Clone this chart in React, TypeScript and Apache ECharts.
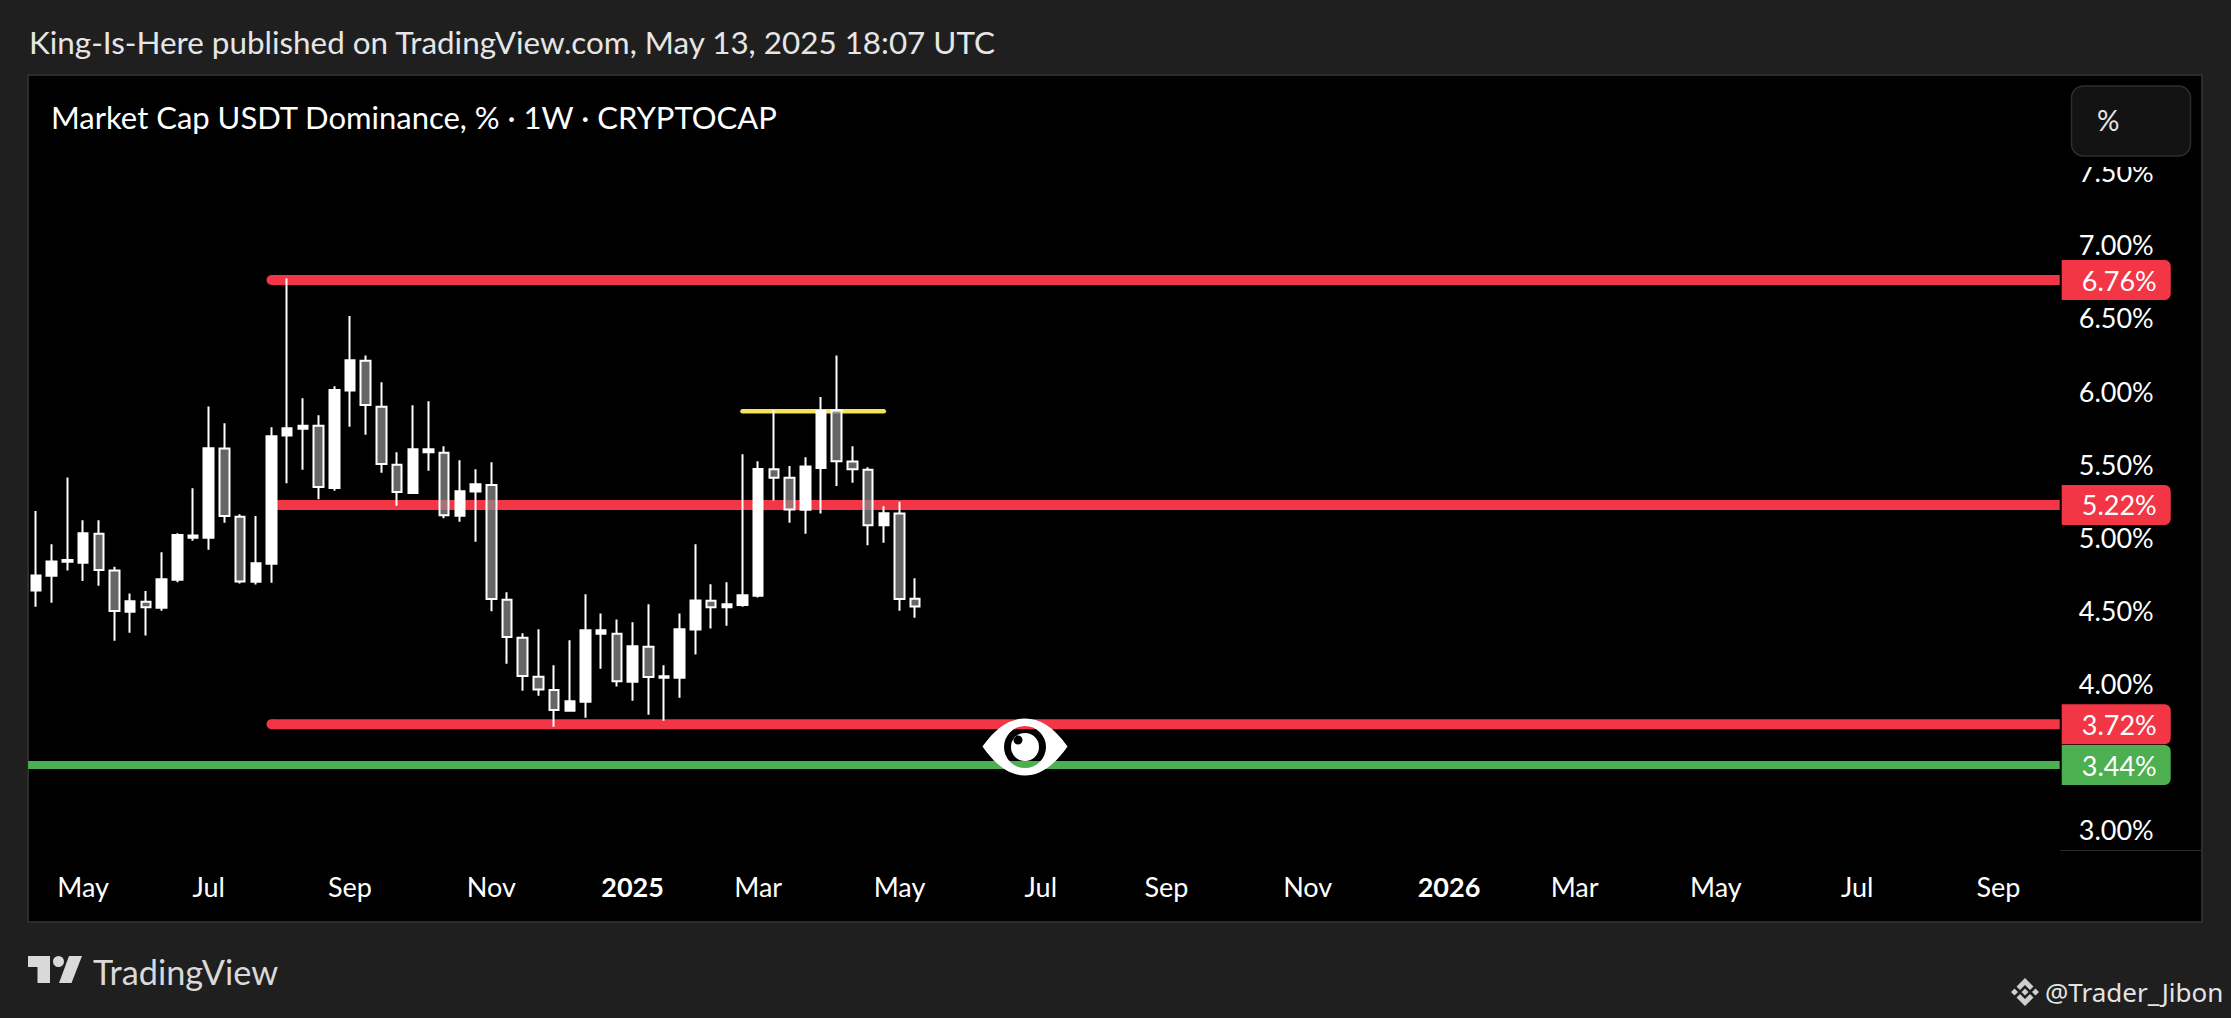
import React, { useEffect, useRef } from "react";
import * as echarts from "echarts";

const opens = [4.634,4.736,4.832,4.825,5.024,4.771,4.490,4.558,4.517,4.709,4.996,4.996,5.606,5.140,4.695,4.818,5.695,5.742,5.763,5.336,6.003,6.208,5.893,5.496,5.302,5.581,5.578,5.147,5.312,5.357,4.572,4.312,4.045,3.954,3.812,3.874,4.339,4.339,4.011,4.250,4.038,4.038,4.367,4.565,4.520,4.536,4.599,5.464,5.407,5.188,5.474,5.866,5.517,5.462,5.081,5.161,4.579];
const closes = [4.738,4.834,4.844,5.026,4.775,4.494,4.561,4.520,4.711,5.015,5.012,5.608,5.145,4.697,4.821,5.690,5.745,5.763,5.343,6.007,6.210,5.905,5.501,5.309,5.601,5.601,5.149,5.314,5.362,4.577,4.316,4.050,3.958,3.817,3.876,4.362,4.362,4.013,4.253,4.043,4.047,4.369,4.567,4.520,4.540,4.602,5.467,5.407,5.190,5.484,5.864,5.519,5.464,5.081,5.163,4.577,4.526];
const lows = [4.524,4.551,4.771,4.700,4.668,4.291,4.346,4.326,4.497,4.691,4.976,4.914,5.099,4.682,4.675,4.688,5.368,5.462,5.259,5.318,5.756,5.701,5.441,5.215,5.295,5.455,5.129,5.106,4.969,4.492,4.134,3.949,3.915,3.703,3.812,3.764,4.100,3.977,3.881,3.785,3.744,3.901,4.196,4.374,4.394,4.524,4.586,5.250,5.099,5.024,5.161,5.350,5.373,4.944,4.962,4.497,4.449];
const highs = [5.179,4.951,5.409,5.115,5.115,4.798,4.615,4.631,4.896,5.026,5.334,5.895,5.779,5.156,5.145,5.752,6.771,5.950,5.834,6.032,6.514,6.244,6.060,5.581,5.902,5.930,5.622,5.526,5.464,5.512,4.622,4.342,4.369,4.123,4.294,4.609,4.478,4.437,4.417,4.540,4.123,4.478,4.951,4.677,4.691,5.567,5.519,5.870,5.487,5.546,5.959,6.244,5.622,5.478,5.211,5.243,4.718];

const tickWeeks = [3, 11, 20, 29, 38, 46, 55, 64, 72, 81, 90, 98, 107, 116, 125];
const tickLabels = ["May", "Jul", "Sep", "Nov", "2025", "Mar", "May", "Jul", "Sep", "Nov", "2026", "Mar", "May", "Jul", "Sep"];
const priceTicks = [3, 3.5, 4, 4.5, 5, 5.5, 6, 6.5, 7, 7.5];

const levelValues = [6.76, 5.22, 3.72, 3.44];
const levelStarts = [15, 15, 15, -0.5];
const levelColors = ["#F23645", "#F23645", "#F23645", "#4CAF50"];
const levelWidths = [10, 10, 10, 8];
const yellowValue = 5.861;
const yellowSpan = [45, 54];

const FONT = "Lato";
const WEEK_PX = 15.7;
const AXIS_MIN = -0.5;
const AXIS_MAX = 128.9;

echarts.graphic.registerShape(
  "eyeIcon",
  echarts.graphic.extendPath(
    "M0 28C14 8 28 0 42.5 0C57 0 71 8 85 28C71 48 57 57 42.5 57C28 57 14 48 0 28Z" +
      "M21.5 28.5A21 21 0 0 0 63.5 28.5A21 21 0 0 0 21.5 28.5Z" +
      "M28.5 28.5A14 14 0 0 1 56.5 28.5A14 14 0 0 1 28.5 28.5Z" +
      "M31 21.5A4.5 4.5 0 0 0 40 21.5A4.5 4.5 0 0 0 31 21.5Z",
    {}
  )
);
echarts.graphic.registerShape(
  "tvLogo",
  echarts.graphic.extendPath(
    "M0 0H22V27H9.5V11H0Z" +
      "M25 5.5A5.5 5.5 0 1 1 36 5.5A5.5 5.5 0 1 1 25 5.5Z" +
      "M41 0H54L43.5 27H31Z",
    {}
  )
);
echarts.graphic.registerShape(
  "binanceLogo",
  echarts.graphic.extendPath(
    "M14 10.5L17.5 14L14 17.5L10.5 14Z" +
      "M0 14L3.5 10.5L7 14L3.5 17.5Z" +
      "M21 14L24.5 10.5L28 14L24.5 17.5Z" +
      "M14 0L22.5 8.5L19 12L14 7L9 12L5.5 8.5Z" +
      "M14 28L22.5 19.5L19 16L14 21L9 16L5.5 19.5Z",
    {}
  )
);

export default function App() {
  const ref = useRef<HTMLDivElement>(null);
  useEffect(() => {
    const chart = echarts.init(ref.current!, undefined, { renderer: "svg" });
    const levelSeries = levelValues.map((value, i) => ({
      type: "line",
      z: 1,
      silent: true,
      data: [
        [levelStarts[i], value],
        [AXIS_MAX, value],
      ],
      lineStyle: { color: levelColors[i], width: levelWidths[i], cap: "butt" },
      itemStyle: { color: levelColors[i] },
      symbol: (_v: unknown, p: { dataIndex: number }) =>
        p.dataIndex === 0 && levelStarts[i] >= 0 ? "circle" : "none",
      symbolSize: levelWidths[i],
      showSymbol: true,
      showAllSymbol: true,
      endLabel: {
        show: true,
        distance: 2,
        formatter: () => `${value.toFixed(2)}%`,
        color: "#ffffff",
        fontFamily: FONT,
        fontSize: 27,
        lineHeight: 26,
        backgroundColor: levelColors[i],
        borderRadius: [0, 6, 6, 0],
        padding: [7, 14, 7, 20],
      },
    }));
    chart.setOption({
      animation: false,
      backgroundColor: "#1f1f1f",
      grid: {
        left: 36 - WEEK_PX / 2,
        top: 76,
        width: (AXIS_MAX - AXIS_MIN) * WEEK_PX,
        height: 774,
        containLabel: false,
      },
      xAxis: {
        type: "value",
        min: AXIS_MIN,
        max: AXIS_MAX,
        splitLine: { show: false },
        axisLine: { show: false },
        axisTick: { show: false },
        axisLabel: {
          customValues: tickWeeks,
          margin: 23,
          color: "#ffffff",
          fontFamily: FONT,
          fontSize: 27,
          formatter: (v: number) => {
            const t = tickLabels[tickWeeks.indexOf(v)];
            return /^\d/.test(t) ? `{y|${t}}` : t;
          },
          rich: {
            y: { fontWeight: "bold", fontFamily: FONT, fontSize: 27, color: "#ffffff" },
          },
        },
      },
      yAxis: {
        type: "value",
        position: "right",
        min: 2.8586,
        max: 8.1563,
        splitLine: { show: false },
        axisLine: { show: false },
        axisTick: { show: false },
        axisLabel: {
          customValues: priceTicks,
          align: "right",
          margin: 94,
          color: "#ffffff",
          fontFamily: FONT,
          fontSize: 27,
          formatter: (v: number) => `${v.toFixed(2)}%`,
        },
      },
      series: [
        ...levelSeries,
        {
          type: "line",
          z: 1,
          silent: true,
          showSymbol: false,
          data: [
            [yellowSpan[0], yellowValue],
            [yellowSpan[1], yellowValue],
          ],
          lineStyle: { color: "#F4E45C", width: 4.5, cap: "round" },
        },
        {
          type: "candlestick",
          z: 2,
          silent: true,
          barWidth: 10,
          encode: { x: 0, y: [1, 2, 3, 4] },
          data: opens.map((o, i) => [i, o, closes[i], lows[i], highs[i]]),
          itemStyle: {
            color: "#ffffff",
            color0: "rgba(136,136,136,0.75)",
            borderColor: "#ffffff",
            borderColor0: "#ffffff",
            borderWidth: 2,
          },
        },
      ],
      graphic: [
        { type: "rect", z: -10, silent: true, shape: { x: 28, y: 75, width: 2174, height: 847 }, style: { fill: "#000000", stroke: "#2c2c2c", lineWidth: 2 } },
        { type: "line", z: 1, silent: true, shape: { x1: 2060, y1: 850.5, x2: 2202, y2: 850.5 }, style: { stroke: "#2a2a2a", lineWidth: 1 } },
        { type: "text", silent: true, x: 29, y: 42, style: { text: "King-Is-Here published on TradingView.com, May 13, 2025 18:07 UTC", fill: "#e6e6e6", fontFamily: FONT, fontSize: 31.4, verticalAlign: "middle" } },
        { type: "text", silent: true, x: 51, y: 117, style: { text: "Market Cap USDT Dominance, % · 1W · CRYPTOCAP", fill: "#ffffff", fontFamily: FONT, fontSize: 31, verticalAlign: "middle" } },
        { type: "rect", z: 50, silent: true, shape: { x: 2060, y: 150, width: 140, height: 17 }, style: { fill: "#000000" } },
        { type: "rect", z: 51, silent: true, shape: { x: 2071.5, y: 86, width: 119, height: 70, r: 12 }, style: { fill: "#131313", stroke: "#2e2e2e", lineWidth: 1.5 } },
        { type: "text", z: 52, silent: true, x: 2097, y: 120, style: { text: "%", fill: "#e6e6e6", fontFamily: FONT, fontSize: 28, verticalAlign: "middle" } },
        { type: "eyeIcon", z: 20, silent: true, x: 982.5, y: 718.5, style: { fill: "#ffffff" } },
        { type: "tvLogo", silent: true, x: 28, y: 956, style: { fill: "#d9d9d9" } },
        { type: "text", silent: true, x: 93, y: 971, style: { text: "TradingView", fill: "#d9d9d9", fontFamily: FONT, fontSize: 34.3, verticalAlign: "middle" } },
        { type: "binanceLogo", silent: true, x: 2011, y: 978, style: { fill: "#cfcfcf" } },
        { type: "text", silent: true, x: 2045, y: 992, style: { text: "@Trader_Jibon", fill: "#e4e4e4", fontFamily: "Noto Sans", fontSize: 26, verticalAlign: "middle" } },
      ],
    });
    return () => chart.dispose();
  }, []);
  return (
    <div
      ref={ref}
      style={{ position: "absolute", left: 0, top: 0, width: 2231, height: 1018 }}
    />
  );
}
